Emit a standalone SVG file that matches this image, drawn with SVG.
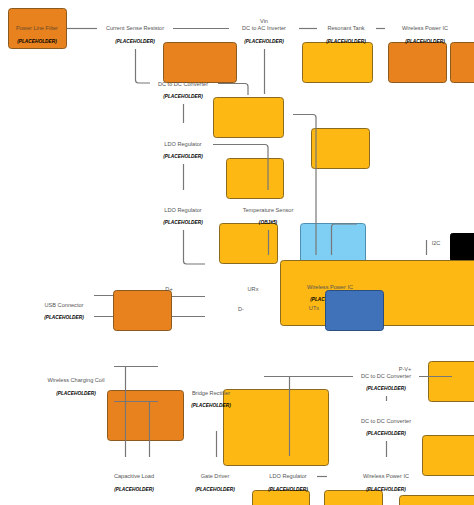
<svg xmlns="http://www.w3.org/2000/svg" width="474" height="505" viewBox="0 0 474 505">
<style>
.o{fill:#E8821E;stroke:#8A5A1E;stroke-width:1}
.y{fill:#FDB813;stroke:#8A6A1E;stroke-width:1}
.lb{fill:#7ECFF3;stroke:#4F8FB0;stroke-width:1}
.b{fill:#3F72B9;stroke:#2A4E80;stroke-width:1}
.k{fill:#000;stroke:#000}
.t{font-family:"Liberation Sans",Arial,sans-serif;font-size:5.6px;fill:#555;text-anchor:middle}
.p{font-family:"Liberation Sans",Arial,sans-serif;font-size:4.8px;font-weight:bold;font-style:italic;fill:#000;text-anchor:middle}
.c{fill:none;stroke:#777;stroke-width:1.2}
</style>
<rect width="474" height="505" fill="#fff"/>
<g id="n-power-line-filter"><rect class="o" x="8.5" y="8.5" width="58" height="40" rx="3"/></g>
<g id="n-box-a"><rect class="o" x="163.5" y="42.5" width="73" height="40" rx="3"/></g>
<g id="n-box-b"><rect class="y" x="302.5" y="42.5" width="70" height="40" rx="3"/></g>
<g id="n-box-c"><rect class="o" x="388.5" y="42.5" width="58" height="40" rx="3"/></g>
<g id="n-box-d"><rect class="o" x="450.5" y="42.5" width="30" height="40" rx="3"/></g>
<g id="n-box-e"><rect class="y" x="213.5" y="97.5" width="70" height="40" rx="3"/></g>
<g id="n-box-f"><rect class="y" x="311.5" y="128.5" width="58" height="40" rx="3"/></g>
<g id="n-box-g"><rect class="y" x="226.5" y="158.5" width="57" height="40" rx="3"/></g>
<g id="n-box-h"><rect class="y" x="219.5" y="223.5" width="58" height="40" rx="3"/></g>
<g id="n-box-lb"><rect class="lb" x="300.5" y="223.5" width="65" height="42" rx="3"/></g>
<g id="n-box-black"><rect class="k" x="450.5" y="233.5" width="30" height="28" rx="2"/></g>
<g id="n-wireless-power-ic-big"><rect class="y" x="280.5" y="260.5" width="200" height="65" rx="3"/></g>
<g id="n-usb-box"><rect class="o" x="113.5" y="290.5" width="58" height="40" rx="3"/></g>
<g id="n-coil-box"><rect class="o" x="107.5" y="390.5" width="76" height="50" rx="3"/></g>
<g id="n-box-i"><rect class="y" x="223.5" y="389.5" width="105" height="76" rx="3"/></g>
<g id="n-box-j"><rect class="y" x="428.5" y="361.5" width="52" height="40" rx="3"/></g>
<g id="n-box-k"><rect class="y" x="422.5" y="435.5" width="58" height="40" rx="3"/></g>
<g id="n-box-l"><rect class="y" x="252.5" y="490.5" width="57" height="40" rx="3"/></g>
<g id="n-box-m"><rect class="y" x="324.5" y="490.5" width="58" height="40" rx="3"/></g>
<g id="n-box-n"><rect class="y" x="399.5" y="495.5" width="80" height="40" rx="3"/></g>
<g id="labels">
<text class="t" x="37" y="30" fill="#6B4A2A" style="fill:#6B4A2A">Power Line Filter</text><text class="p" x="37" y="43">(PLACEHOLDER)</text>
<text class="t" x="135" y="30">Current Sense Resistor</text><text class="p" x="135" y="43">(PLACEHOLDER)</text>
<text class="t" x="264" y="23">Vin</text>
<text class="t" x="264" y="30">DC to AC Inverter</text><text class="p" x="264" y="43">(PLACEHOLDER)</text>
<text class="t" x="346" y="30">Resonant Tank</text><text class="p" x="346" y="43">(PLACEHOLDER)</text>
<text class="t" x="425" y="30">Wireless Power IC</text><text class="p" x="425" y="43">(PLACEHOLDER)</text>
<text class="t" x="183" y="86">DC to DC Converter</text><text class="p" x="183" y="98">(PLACEHOLDER)</text>
<text class="t" x="183" y="146">LDO Regulator</text><text class="p" x="183" y="158">(PLACEHOLDER)</text>
<text class="t" x="183" y="212">LDO Regulator</text><text class="p" x="183" y="224">(PLACEHOLDER)</text>
<text class="t" x="268" y="212">Temperature Sensor</text><text class="p" x="268" y="224">(OBJ#5)</text>
<text class="t" x="436" y="245">I2C</text>
<text class="t" x="169" y="291">D+</text>
<text class="t" x="253" y="291">URx</text>
<text class="t" x="241" y="311">D-</text>
<text class="t" x="330" y="289">Wireless Power IC</text><text class="p" x="330" y="301">(PLACEHOLDER)</text>
<text class="t" x="314" y="310">UTx</text>
<text class="t" x="64" y="307">USB Connector</text><text class="p" x="64" y="319">(PLACEHOLDER)</text>
<text class="t" x="76" y="382">Wireless Charging Coil</text><text class="p" x="76" y="395">(PLACEHOLDER)</text>
<text class="t" x="211" y="395">Bridge Rectifier</text><text class="p" x="211" y="407">(PLACEHOLDER)</text>
<text class="t" x="405" y="371">P-V+</text>
<text class="t" x="386" y="378">DC to DC Converter</text><text class="p" x="386" y="390">(PLACEHOLDER)</text>
<text class="t" x="386" y="423">DC to DC Converter</text><text class="p" x="386" y="435">(PLACEHOLDER)</text>
<text class="t" x="134" y="478">Capacitive Load</text><text class="p" x="134" y="491">(PLACEHOLDER)</text>
<text class="t" x="215" y="478">Gate Driver</text><text class="p" x="215" y="491">(PLACEHOLDER)</text>
<text class="t" x="288" y="478">LDO Regulator</text><text class="p" x="288" y="491">(PLACEHOLDER)</text>
<text class="t" x="386" y="478">Wireless Power IC</text><text class="p" x="386" y="491">(PLACEHOLDER)</text>
</g>
<g id="n-blue-box"><rect class="b" x="325.5" y="290.5" width="58" height="40" rx="3"/></g>
<g id="connectors">
<path class="c" d="M67 28.5H97"/>
<path class="c" d="M173 28.5H229"/>
<path class="c" d="M299 28.5H317"/>
<path class="c" d="M376 28.5H385"/>
<path class="c" d="M135.5 49V80q0 3 3 3H150"/>
<path class="c" d="M218 83.5H245q3 0 3 3V95"/>
<path class="c" d="M264.5 49V94"/>
<path class="c" d="M183.5 104V123"/>
<path class="c" d="M293 114.5H313q3 0 3 3V255"/>
<path class="c" d="M213 144.5H265q3 0 3 3V190"/>
<path class="c" d="M183.5 164V190"/>
<path class="c" d="M183.5 230V261q0 3 3 3H205"/>
<path class="c" d="M268.5 230V255"/>
<path class="c" d="M331.5 255V227q0-3 3-3H357"/>
<path class="c" d="M426.5 240V255"/>
<path class="c" d="M94 295.5H113M94 316.5H113"/>
<path class="c" d="M172 296.5H205M172 316.5H205"/>
<path class="c" d="M114 366.5H158M125.5 366V457"/>
<path class="c" d="M114 401.5H158M149.5 401V457"/>
<path class="c" d="M216.5 431V457"/>
<path class="c" d="M264 376.5H353M289.5 376V456"/>
<path class="c" d="M419 376.5H452"/>
<path class="c" d="M386.5 396V401"/>
<path class="c" d="M386.5 441V457"/>
<path class="c" d="M317 476.5H327"/>
</g>
</svg>
